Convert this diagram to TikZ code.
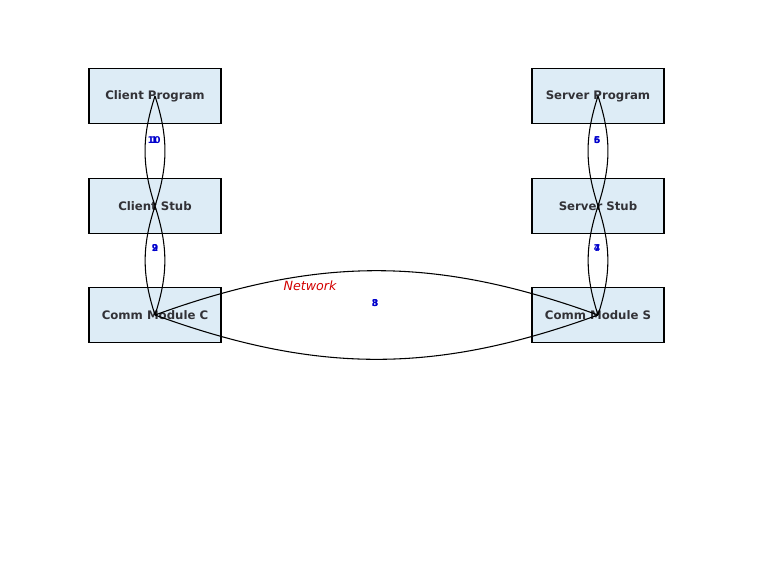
\documentclass[tikz,border=0pt]{standalone}
\usepackage{fontspec}
\setmainfont{DejaVu Sans}
\begin{document}
\begin{tikzpicture}[x=0.75pt,y=-0.75pt,
  box/.style={draw,line width=0.9pt,fill={rgb,255:red,221;green,236;blue,246},minimum width=99pt,minimum height=41pt,inner sep=0pt,font=\fontsize{8.8}{10}\selectfont\bfseries,text={rgb,255:red,50;green,50;blue,55}},
  num/.style={font=\fontsize{7}{8}\selectfont\bfseries,text=blue!80!black,inner sep=0pt},
  lk/.style={line width=0.8pt}]
\useasboundingbox (0,0) rectangle (768,576);
\node[box] (cp) at (155,96) {Client Program};
\node[box] (cs) at (155,206) {Client Stub};
\node[box] (cm) at (155,315) {Comm Module C};
\node[box] (sp) at (598,96) {Server Program};
\node[box] (ss) at (598,206) {Server Stub};
\node[box] (sm) at (598,315) {Comm Module S};
\draw[lk] (cp.center) to[bend left=18] (cs.center);
\draw[lk] (cs.center) to[bend left=18] (cp.center);
\draw[lk] (cs.center) to[bend left=18] (cm.center);
\draw[lk] (cm.center) to[bend left=18] (cs.center);
\draw[lk] (cm.center) to[bend left=20] (sm.center);
\draw[lk] (sm.center) to[bend left=20] (cm.center);
\draw[lk] (sp.center) to[bend left=18] (ss.center);
\draw[lk] (ss.center) to[bend left=18] (sp.center);
\draw[lk] (ss.center) to[bend left=18] (sm.center);
\draw[lk] (sm.center) to[bend left=18] (ss.center);
\node[num] (n1) at (154,140) {1};
\node[num] (n10) at (154,140) {10};
\node[num] (n2) at (155,248) {2};
\node[num] (n9) at (155,248) {9};
\node[num] (n3) at (375,303) {3};
\node[num] (n8) at (375,303) {8};
\node[num] (n4) at (597,248) {4};
\node[num] (n7) at (597,248) {7};
\node[num] (n5) at (597,140) {5};
\node[num] (n6) at (597,140) {6};
\node[font=\fontsize{9.5}{10}\selectfont\itshape,text={rgb,255:red,210;green,0;blue,0}] (net) at (310,286) {Network};
\end{tikzpicture}
\end{document}
